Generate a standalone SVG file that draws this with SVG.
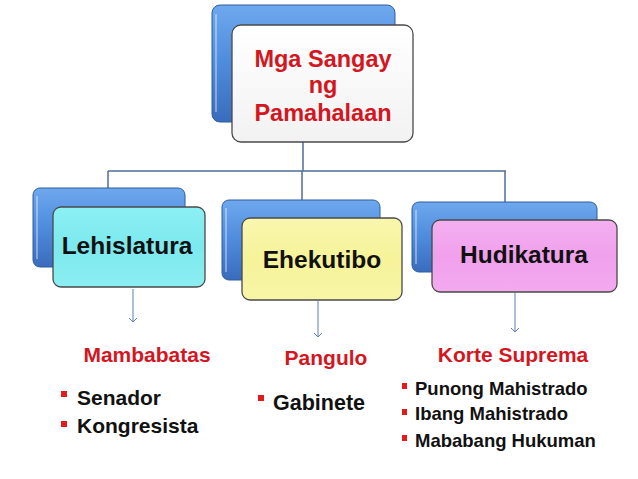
<svg xmlns="http://www.w3.org/2000/svg" width="638" height="479" viewBox="0 0 638 479">
<defs>
<linearGradient id="gBlue" x1="0" y1="0" x2="0" y2="1">
<stop offset="0" stop-color="#6ea8ee"/><stop offset="0.5" stop-color="#4f8bdc"/><stop offset="1" stop-color="#3a6cbd"/>
</linearGradient>
<linearGradient id="gWhite" x1="0" y1="0" x2="0" y2="1">
<stop offset="0" stop-color="#ffffff"/><stop offset="1" stop-color="#f2f2f2"/>
</linearGradient>
<linearGradient id="gCyan" x1="0" y1="0" x2="0" y2="1">
<stop offset="0" stop-color="#8cf0f4"/><stop offset="0.5" stop-color="#7ce9ee"/><stop offset="1" stop-color="#8ceef2"/>
</linearGradient>
<linearGradient id="gYellow" x1="0" y1="0" x2="0" y2="1">
<stop offset="0" stop-color="#f9f7ae"/><stop offset="0.5" stop-color="#f6f39a"/><stop offset="1" stop-color="#f8f5a6"/>
</linearGradient>
<linearGradient id="gPink" x1="0" y1="0" x2="0" y2="1">
<stop offset="0" stop-color="#f4b0f0"/><stop offset="0.5" stop-color="#f0a0ec"/><stop offset="1" stop-color="#f3aaef"/>
</linearGradient>
<marker id="arr" markerWidth="10" markerHeight="10" refX="8" refY="5" orient="auto" markerUnits="userSpaceOnUse">
<path d="M4,1 L8,5 L4,9" fill="none" stroke="#5b7fb3" stroke-width="1"/>
</marker>
<style>
.back{fill:url(#gBlue);stroke:#2f5d9e;stroke-width:1}
.front{stroke:#4a4a4a;stroke-width:1.3}
.hl{fill:none;stroke:#ffffff;stroke-opacity:0.6;stroke-width:1.2}
.conn{fill:none;stroke:#4f6f99;stroke-width:1.5}
.arrow{fill:none;stroke:#5b7fb3;stroke-width:1}
.title{font-family:"Liberation Sans",Arial,sans-serif;font-weight:bold;fill:#d4161f;text-anchor:middle}
.label{font-family:"Liberation Sans",Arial,sans-serif;font-weight:bold;fill:#111111;text-anchor:middle;font-size:24.5px}
.red{font-family:"Liberation Sans",Arial,sans-serif;font-weight:bold;fill:#d4161f;text-anchor:middle;font-size:21px}
.item{font-family:"Liberation Sans",Arial,sans-serif;font-weight:bold;fill:#111111}
.bul{fill:#e01b1b}
</style>
</defs>
<rect width="638" height="479" fill="#ffffff"/>

<g id="connectors">
<path class="conn" d="M303,142 V171 M108,171 H506 M108,171 V188 M302,171 V200 M505,171 V202"/>
<path class="arrow" d="M133,289 V322" marker-end="url(#arr)"/>
<path class="arrow" d="M318,301 V337" marker-end="url(#arr)"/>
<path class="arrow" d="M515,293 V332" marker-end="url(#arr)"/>
</g>

<g id="root">
<rect class="back" x="212" y="5" width="183" height="117" rx="8"/>
<path class="hl" d="M216,14 V112"/>
<rect class="front" x="232" y="25" width="181" height="117" rx="9" fill="url(#gWhite)"/>
<text class="title" font-size="23.5" x="323" y="67">Mga Sangay</text>
<text class="title" font-size="23.5" x="323" y="93">ng</text>
<text class="title" font-size="23.5" x="323" y="121">Pamahalaan</text>
</g>

<g id="lehislatura">
<rect class="back" x="33" y="188" width="152" height="79" rx="7"/>
<path class="hl" d="M37,196 V259"/>
<rect class="front" x="53" y="207" width="152" height="80" rx="8" fill="url(#gCyan)"/>
<text class="label" x="127" y="254">Lehislatura</text>
</g>

<g id="ehekutibo">
<rect class="back" x="222" y="200" width="158" height="80" rx="7"/>
<path class="hl" d="M226,208 V272"/>
<rect class="front" x="242" y="218" width="160" height="82" rx="8" fill="url(#gYellow)"/>
<text class="label" x="322" y="268">Ehekutibo</text>
</g>

<g id="hudikatura">
<rect class="back" x="412" y="202" width="185" height="70" rx="7"/>
<path class="hl" d="M416,210 V264"/>
<rect class="front" x="432" y="220" width="185" height="72" rx="8" fill="url(#gPink)"/>
<text class="label" x="524" y="263">Hudikatura</text>
</g>

<g id="mambabatas">
<text class="red" x="147" y="362">Mambabatas</text>
<rect class="bul" x="61" y="391" width="6" height="6"/>
<text class="item" font-size="21" x="77" y="405">Senador</text>
<rect class="bul" x="61" y="421" width="6" height="6"/>
<text class="item" font-size="21" x="77" y="433">Kongresista</text>
</g>

<g id="pangulo">
<text class="red" x="326" y="365">Pangulo</text>
<rect class="bul" x="258" y="395" width="6" height="6"/>
<text class="item" font-size="21.5" x="273" y="410">Gabinete</text>
</g>

<g id="korte">
<text class="red" x="513" y="362">Korte Suprema</text>
<rect class="bul" x="402" y="383" width="5" height="6"/>
<text class="item" font-size="18.5" x="415" y="395">Punong Mahistrado</text>
<rect class="bul" x="402" y="409" width="5" height="6"/>
<text class="item" font-size="18.5" x="415" y="420">Ibang Mahistrado</text>
<rect class="bul" x="402" y="435" width="5" height="6"/>
<text class="item" font-size="18.5" x="415" y="447">Mababang Hukuman</text>
</g>
</svg>
